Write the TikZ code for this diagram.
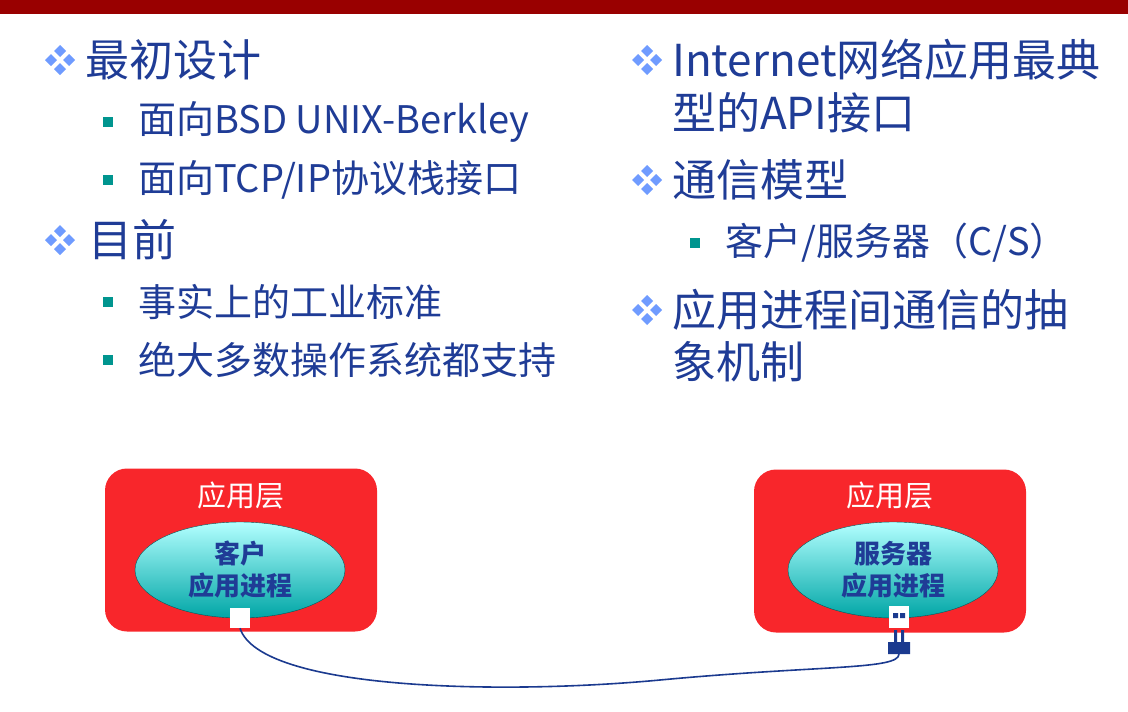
\documentclass[tikz,border=0pt]{standalone}
\usepackage{fontspec}
\setmainfont{Liberation Sans}
\newfontfamily\cjk{Noto Sans CJK SC}
\usetikzlibrary{shapes.geometric}
\definecolor{tblue}{HTML}{1F3C96}
\definecolor{dblue}{HTML}{6F9BFF}
\definecolor{teal2}{HTML}{00958F}
\definecolor{lred}{HTML}{F8262B}
\definecolor{dred}{HTML}{990000}
\definecolor{plugb}{HTML}{1B3A8F}
\begin{document}
\begin{tikzpicture}[x=1pt,y=-1pt,
  big/.style={anchor=west,text=tblue,font=\cjk\fontsize{44}{46}\selectfont,inner sep=0},
  small/.style={anchor=west,text=tblue,font=\cjk\fontsize{38}{40}\selectfont,inner sep=0},
  layer/.style={draw=none,fill=lred,rounded corners=22pt,minimum width=272pt,minimum height=163pt},
  proc/.style={ellipse,draw=teal!70!black,top color=cyan!30,bottom color=teal!70!cyan,minimum width=210pt,minimum height=96pt,text=tblue,font=\cjk\fontsize{26}{32}\selectfont\bfseries,align=center,inner sep=0},
  lbl/.style={text=white,font=\cjk\fontsize{29}{30}\selectfont},
  sq/.style={fill=teal2,minimum size=10pt,inner sep=0}]
\useasboundingbox (0,0) rectangle (1128,712);
\fill[dred] (0,0) rectangle (1128,14);
\newcommand\dia[2]{\foreach \dx/\dy in {0/-9,0/9,-9/0,9/0}{\fill[dblue] (#1+\dx,#2+\dy+6) -- ++(-6,-6) -- ++(6,-6) -- ++(6,6) -- cycle;}}
\dia{60}{60}\node[big] (t1) at (85,60) {最初设计};
\node[sq] (b1) at (108,122){};\node[small] (s1) at (138,122) {面向BSD UNIX-Berkley};
\node[sq] (b2) at (108,180){};\node[small] (s2) at (138,180) {面向TCP/IP协议栈接口};
\dia{60}{240}\node[big] (t2) at (88,240) {目前};
\node[sq] (b3) at (108,302){};\node[small] (s3) at (138,302) {事实上的工业标准};
\node[sq] (b4) at (108,360){};\node[small] (s4) at (138,360) {绝大多数操作系统都支持};
\dia{647}{60}\node[big] (t3) at (672,60) {Internet网络应用最典};
\node[big] (t3b) at (672,113) {型的API接口};
\dia{647}{180}\node[big] (t4) at (672,180) {通信模型};
\node[sq] (b5) at (695,243){};\node[small] (s5) at (725,243) {客户/服务器（C/S）};
\dia{647}{310}\node[big] (t5) at (672,310) {应用进程间通信的抽};
\node[big] (t5b) at (672,362) {象机制};
\node[layer] (L) at (241,550) {};
\node[layer] (R) at (890,551) {};
\node[lbl] (Ll) at (241,495) {应用层};
\node[lbl] (Rl) at (890,495) {应用层};
\node[proc] (Lp) at (240,570) {客户\\应用进程};
\node[proc] (Rp) at (893,570) {服务器\\应用进程};
\node[fill=white,minimum size=20pt,inner sep=0] (ls) at (240,618) {};
\node[fill=white,minimum width=20pt,minimum height=22pt,inner sep=0] (rs) at (899,617) {};
\fill[plugb] (893,613) rectangle (898,618) (900,613) rectangle (905,618);
\fill[plugb] (894,630) rectangle (897,642) (901,630) rectangle (904,642) (888,642) rectangle (910,654);
\coordinate (rp) at (899,654);
\draw[plugb,line width=1.6pt] (ls.south) .. controls (260,690) and (500,695) .. (660,680) .. controls (820,665) and (899,670) .. (rp);
\end{tikzpicture}
\end{document}
